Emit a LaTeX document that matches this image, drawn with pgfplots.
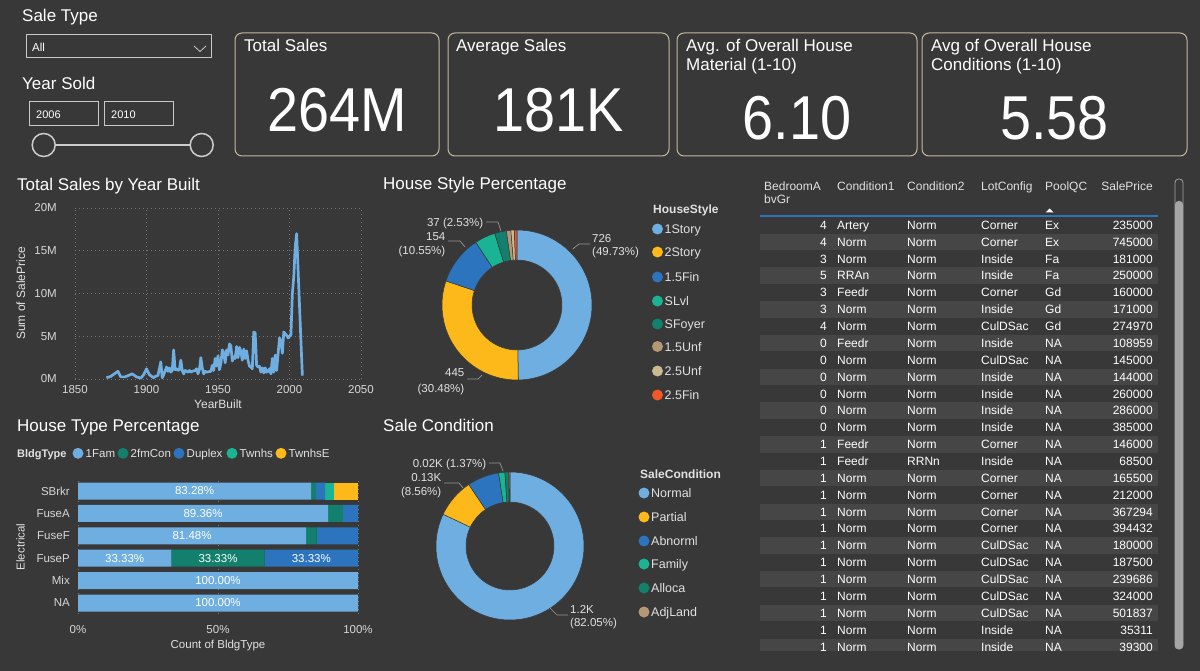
\documentclass[border=0pt]{standalone}
\usepackage{graphicx}
\usepackage{pgfplots}
\pgfplotsset{compat=1.18}
\usepackage{pgfplotstable}
\usepackage{fontspec}
\setmainfont{Liberation Sans}
\usetikzlibrary{calc}

\newcommand{\fs}[1]{\fontsize{#1}{#1}\selectfont}

\definecolor{bgc}{RGB}{56,56,56}
\definecolor{rowc}{RGB}{70,70,70}
\definecolor{cardc}{RGB}{196,186,158}
\definecolor{boxc}{RGB}{200,200,200}
\definecolor{sldc}{RGB}{205,205,205}
\definecolor{tickc}{RGB}{215,215,215}
\definecolor{gridc}{RGB}{120,120,120}
\definecolor{leadc}{RGB}{150,150,150}
\definecolor{lblc}{RGB}{225,225,225}
\definecolor{scrc}{RGB}{165,165,165}
\definecolor{lblue}{RGB}{110,174,224}
\definecolor{cyel}{RGB}{252,185,25}
\definecolor{dblue}{RGB}{44,117,190}
\definecolor{cteal}{RGB}{26,180,148}
\definecolor{cdteal}{RGB}{18,128,108}
\definecolor{ctan}{RGB}{180,152,118}
\definecolor{cbeige}{RGB}{205,185,145}
\definecolor{corng}{RGB}{240,88,40}
% slice colours, by row
\colorlet{hs0}{lblue}\colorlet{hs1}{cyel}\colorlet{hs2}{dblue}\colorlet{hs3}{cteal}
\colorlet{hs4}{cdteal}\colorlet{hs5}{ctan}\colorlet{hs6}{cbeige}\colorlet{hs7}{corng}
\colorlet{sc0}{lblue}\colorlet{sc1}{cyel}\colorlet{sc2}{dblue}\colorlet{sc3}{cteal}
\colorlet{sc4}{cdteal}\colorlet{sc5}{ctan}

% sum of SalePrice by YearBuilt, in millions
\pgfplotstableread{
year sales
1872 0.15
1875 0.30
1880 0.90
1882 0.25
1885 0.25
1890 0.60
1893 0.25
1896 0.10
1898 0.50
1900 1.20
1902 0.50
1905 0.15
1906 0.30
1908 0.40
1910 2.00
1911 0.15
1912 0.50
1914 1.40
1915 0.90
1916 1.30
1917 0.80
1918 1.00
1919 3.40
1920 1.10
1921 1.20
1922 1.00
1923 1.10
1924 2.20
1925 1.00
1926 0.60
1927 1.00
1928 0.90
1929 0.80
1930 1.00
1931 0.80
1932 0.90
1934 1.00
1935 1.20
1936 0.60
1937 1.10
1938 2.50
1939 1.30
1940 0.60
1941 0.90
1942 0.80
1945 0.90
1946 1.60
1947 1.00
1948 2.40
1949 1.50
1950 2.70
1951 1.10
1952 1.80
1953 3.40
1954 3.10
1955 1.90
1956 3.40
1957 2.80
1958 4.10
1959 3.90
1960 2.10
1961 2.60
1962 2.40
1963 3.80
1964 2.50
1965 3.70
1966 3.20
1967 2.20
1968 3.50
1969 2.40
1970 3.30
1971 2.20
1972 1.50
1973 1.40
1974 1.20
1975 5.50
1976 5.40
1977 1.60
1978 1.40
1979 1.50
1980 0.80
1981 1.30
1982 0.70
1983 1.30
1984 0.80
1985 0.90
1986 1.20
1987 0.60
1988 2.40
1989 0.80
1990 2.80
1991 1.00
1992 2.90
1993 4.80
1994 4.40
1995 3.00
1996 5.50
1997 5.30
1998 5.10
1999 4.80
2000 5.00
2001 5.20
2002 10.0
2003 12.0
2004 15.5
2005 17.0
2006 12.8
2007 8.60
2008 4.40
2009 0.40
}\yearbuilt

% share of BldgType by Electrical (row 5 = SBrkr at top)
\pgfplotstableread{
row Fam fmCon Duplex Twnhs TwnhsE
5 83.28 1.80 3.20 3.20 8.52
4 89.36 5.32 5.32 0 0
3 81.48 3.70 14.82 0 0
2 33.33 33.34 33.33 0 0
1 100 0 0 0 0
0 100 0 0 0 0
}\bldg

\pgfplotstableread{
style n
1Story 726
2Story 445
1.5Fin 154
SLvl 65
SFoyer 37
1.5Unf 14
2.5Unf 11
2.5Fin 8
}\housestyle

\pgfplotstableread{
cond n
Normal 1198
Partial 125
Abnorml 101
Family 20
Alloca 12
AdjLand 4
}\salecond

% #1 table, #2 cx, #3 cy, #4 outer r, #5 inner r, #6 total, #7 colour prefix
\newcommand{\donut}[7]{%
  \xdef\acur{90}%
  \pgfplotstableforeachcolumnelement{n}\of#1\as\val{%
    \pgfmathsetmacro{\anext}{\acur-360*(\val/#6)}%
    \edef\scol{#7\pgfplotstablerow}%
    \fill[\scol, draw=bgc, line width=0.5pt]
      ($(#2,#3)+(\acur:#4pt)$) arc[start angle=\acur, end angle=\anext, radius=#4pt]
      -- ($(#2,#3)+(\anext:#5pt)$) arc[start angle=\anext, end angle=\acur, radius=#5pt] -- cycle;
    \xdef\acur{\anext}%
  }%
}

\tikzset{
  ttl/.style={anchor=base west, inner sep=0pt, font=\fs{17}, text=white},
  tb/.style={inner sep=0pt, font=\fs{12}, text=white},
  th/.style={inner sep=0pt, font=\fs{12}, text=lblc},
  lg/.style={anchor=base west, inner sep=0pt, font=\fs{12.5}, text=lblc},
  lgt/.style={anchor=base west, inner sep=0pt, font=\bfseries\fs{12}, text=lblc},
  dl/.style={inner sep=0pt, font=\fs{11.5}, text=lblc},
}

\pgfplotsset{
  dash/.style={
    scale only axis,
    /pgf/number format/assume math mode=true,
    /pgf/number format/1000 sep={},
    axis line style={draw=none}, tick style={draw=none},
    major grid style={gridc, dash pattern=on 1pt off 3pt, line width=1pt},
    tick label style={font=\fs{11.5}, text=tickc},
  },
}

\begin{document}
\begin{tikzpicture}[x=1pt, y=-1pt]
\path[use as bounding box, fill=bgc] (0,0) rectangle (1200,671);

% ---------- slicers ----------
\node[ttl] at (22,21.7) {Sale Type};
\draw[boxc, line width=1pt] (26,35) rectangle (211,58);
\node[anchor=base west, inner sep=0pt, font=\fs{11.5}, text=white] at (32,51.5) {All};
\draw[boxc, line width=0.8pt] (194,46) -- (200,51.5) -- (206,46);
\node[ttl] at (22,89.3) {Year Sold};
\draw[boxc, line width=1pt] (29,102) rectangle (98,126);
\draw[boxc, line width=1pt] (104,102) rectangle (173,126);
\node[anchor=base west, inner sep=0pt, font=\fs{11}, text=white] at (36,118.3) {2006};
\node[anchor=base west, inner sep=0pt, font=\fs{11}, text=white] at (111,118.3) {2010};
\draw[sldc, line width=2.5pt] (55,145) -- (190,145);
\draw[sldc, line width=1.5pt, fill=bgc] (43.7,145) circle (11.5pt);
\draw[sldc, line width=1.5pt, fill=bgc] (201.7,145) circle (11.5pt);

% ---------- cards ----------
\foreach \xa/\xb in {235/439, 448/669, 677/917, 922/1187}
  \draw[cardc, line width=1pt, rounded corners=7pt] (\xa,33) rectangle (\xb,156);
\node[ttl] at (244,52) {Total Sales};
\node[ttl] at (456,52) {Average Sales};
\node[ttl] at (686,52) {Avg. of Overall House};
\node[ttl] at (686,71) {Material (1-10)};
\node[ttl] at (931,52) {Avg of Overall House};
\node[ttl] at (931,71) {Conditions (1-10)};
\node[anchor=base, inner sep=0pt, text=white] at (337,132) {\scalebox{0.9}[1]{\fs{62}264M}};
\node[anchor=base, inner sep=0pt, text=white] at (558.5,132) {\scalebox{0.9}[1]{\fs{62}181K}};
\node[anchor=base, inner sep=0pt, text=white] at (797,139.5) {\scalebox{0.9}[1]{\fs{62}6.10}};
\node[anchor=base, inner sep=0pt, text=white] at (1054.5,139.5) {\scalebox{0.9}[1]{\fs{62}5.58}};

% ---------- line chart ----------
\node[ttl] at (17,191) {Total Sales by Year Built};
\begin{axis}[dash,
  at={(218pt,-293.5pt)}, anchor=center,
  width=286pt, height=171pt,
  xmin=1850, xmax=2050, ymin=0, ymax=20,
  xtick={1850,1900,1950,2000,2050}, ytick={0,5,10,15,20},
  yticklabels={0M,5M,10M,15M,20M},
  grid=major,
  yticklabel style={anchor=east, inner sep=0pt, xshift=-18pt},
  xticklabel style={anchor=north, inner sep=0pt, yshift=-6.5pt},
  xlabel={YearBuilt}, ylabel={Sum of SalePrice},
  every axis x label/.style={at={(axis description cs:0.5,-0.17)}, anchor=base,
    inner sep=0pt, font=\fs{12}, text=lblc},
  every axis y label/.style={at={(axis description cs:-0.189,0.5)}, anchor=center,
    rotate=90, inner sep=0pt, font=\fs{12}, text=lblc},
]
\addplot[lblue, line width=2.7pt, line join=round] table[x=year, y=sales] {\yearbuilt};
\end{axis}

% ---------- house style donut ----------
\node[ttl] at (383,189.3) {House Style Percentage};
\donut{\housestyle}{517}{305}{75}{45}{1460}{hs}
\draw[leadc, line width=0.7pt] (572.7,249) -- (579,244) -- (590,244);
\node[dl, anchor=base west] at (592,242.3) {726};
\node[dl, anchor=base west] at (592,255.3) {(49.73\%)};
\draw[leadc, line width=0.7pt] (467,379) -- (478,379) -- (482,375);
\node[dl, anchor=base east] at (464.5,376.2) {445};
\node[dl, anchor=base east] at (464.5,392.2) {(30.48\%)};
\draw[leadc, line width=0.7pt] (448,241) -- (460,241) -- (465,247);
\node[dl, anchor=base east] at (445.5,240.2) {154};
\node[dl, anchor=base east] at (445.5,254.2) {(10.55\%)};
\draw[leadc, line width=0.7pt] (486,222) -- (498,222) -- (501,231);
\node[dl, anchor=base east] at (483.5,226.2) {37 (2.53\%)};
\node[lgt] at (653,213.5) {HouseStyle};
\foreach \y/\c/\t in {229/hs0/1Story, 252/hs1/2Story, 277/hs2/1.5Fin, 301/hs3/SLvl,
                      324/hs4/SFoyer, 346.5/hs5/1.5Unf, 371/hs6/2.5Unf, 395/hs7/2.5Fin}{
  \fill[\c] (657.5,\y) circle (5.5pt);
  \node[lg] at (664.5,\y+4.5) {\t};
}

% ---------- house type bars ----------
\node[ttl] at (17,431.5) {House Type Percentage};
\node[lgt, font=\bfseries\fs{11}] at (17,457.4) {BldgType};
\foreach \x/\c/\t in {78/lblue/1Fam, 123/cdteal/2fmCon, 179/dblue/Duplex, 232/cteal/Twnhs, 281/cyel/TwnhsE}{
  \fill[\c] (\x,453.3) circle (5.5pt);
  \node[lg, font=\fs{11.5}] at (\x+7.5,457.5) {\t};
}
\begin{axis}[dash,
  at={(218pt,-547pt)}, anchor=center,
  width=280pt, height=134.4pt,
  xbar stacked, bar width=17pt,
  xmin=0, xmax=100, ymin=-0.5, ymax=5.5,
  ytick={0,1,2,3,4,5}, yticklabels={NA,Mix,FuseP,FuseF,FuseA,SBrkr},
  xtick={0,50,100}, xticklabels={0\%,50\%,100\%},
  xmajorgrids,
  yticklabel style={anchor=east, inner sep=0pt, xshift=-8pt},
  xticklabel style={anchor=north, inner sep=0pt, yshift=-11.5pt},
  xlabel={Count of BldgType}, ylabel={Electrical},
  every axis x label/.style={at={(axis description cs:0.5,-0.252)}, anchor=base,
    inner sep=0pt, font=\fs{11.5}, text=lblc},
  every axis y label/.style={at={(axis description cs:-0.205,0.5)}, anchor=center,
    rotate=90, inner sep=0pt, font=\fs{11.5}, text=lblc},
]
\addplot[fill=lblue, draw=none] table[x=Fam, y=row] {\bldg};
\addplot[fill=cdteal, draw=none] table[x=fmCon, y=row] {\bldg};
\addplot[fill=dblue, draw=none] table[x=Duplex, y=row] {\bldg};
\addplot[fill=cteal, draw=none] table[x=Twnhs, y=row] {\bldg};
\addplot[fill=cyel, draw=none] table[x=TwnhsE, y=row] {\bldg};
\end{axis}
\begin{axis}[
  at={(218pt,-547pt)}, anchor=center, scale only axis,
  width=280pt, height=134.4pt, hide axis,
  xmin=0, xmax=100, ymin=-0.5, ymax=5.5,
]
\addplot[draw=none, mark=none, nodes near coords, point meta=explicit symbolic,
  every node near coord/.style={anchor=center, inner sep=0pt, font=\fs{11.5}, text=white}]
  coordinates {(41.64,5) [83.28\%] (44.68,4) [89.36\%] (40.74,3) [81.48\%]
               (16.665,2) [33.33\%] (50,2) [33.33\%] (83.33,2) [33.33\%]
               (50,1) [100.00\%] (50,0) [100.00\%]};
\end{axis}

% ---------- sale condition donut ----------
\node[ttl] at (383,431.5) {Sale Condition};
\donut{\salecond}{510}{546}{74}{44}{1460}{sc}
\draw[leadc, line width=0.7pt] (489,463) -- (500,463) -- (503,471);
\node[dl, anchor=base east] at (486.5,467.2) {0.02K (1.37\%)};
\draw[leadc, line width=0.7pt] (444,483) -- (459,483) -- (463,488);
\node[dl, anchor=base east] at (441.5,481.2) {0.13K};
\node[dl, anchor=base east] at (441.5,495.2) {(8.56\%)};
\draw[leadc, line width=0.7pt] (550,608) -- (557,615) -- (568,615);
\node[dl, anchor=base west] at (570,613.2) {1.2K};
\node[dl, anchor=base west] at (570,626.2) {(82.05\%)};
\node[lgt] at (640,478.5) {SaleCondition};
\foreach \y/\c/\t in {493/sc0/Normal, 517/sc1/Partial, 541/sc2/Abnorml, 564/sc3/Family,
                      588/sc4/Alloca, 612/sc5/AdjLand}{
  \fill[\c] (644,\y) circle (5.5pt);
  \node[lg] at (651,\y+4.5) {\t};
}

% ---------- table ----------
\node[th, anchor=base west] at (764,190.5) {BedroomA};
\node[th, anchor=base west] at (764,203.5) {bvGr};
\node[th, anchor=base west] at (837,190.5) {Condition1};
\node[th, anchor=base west] at (907,190.5) {Condition2};
\node[th, anchor=base west] at (981,190.5) {LotConfig};
\node[th, anchor=base west] at (1045,190.5) {PoolQC};
\node[th, anchor=base east] at (1153,190.5) {SalePrice};
\fill[white] (1045.5,212.5) -- (1053.5,212.5) -- (1049.5,208.5) -- cycle;
\begin{scope}
\clip (755,217) rectangle (1165,650.5);
\foreach \b/\ca/\cb/\lc/\pq/\sp [count=\i from 0] in {
  4/Artery/Norm/Corner/Ex/235000, 4/Norm/Norm/Corner/Ex/745000,
  3/Norm/Norm/Inside/Fa/181000, 5/RRAn/Norm/Inside/Fa/250000,
  3/Feedr/Norm/Corner/Gd/160000, 3/Norm/Norm/Inside/Gd/171000,
  4/Norm/Norm/CulDSac/Gd/274970, 0/Feedr/Norm/Inside/NA/108959,
  0/Norm/Norm/CulDSac/NA/145000, 0/Norm/Norm/Inside/NA/144000,
  0/Norm/Norm/Inside/NA/260000, 0/Norm/Norm/Inside/NA/286000,
  0/Norm/Norm/Inside/NA/385000, 1/Feedr/Norm/Corner/NA/146000,
  1/Feedr/RRNn/Inside/NA/68500, 1/Norm/Norm/Corner/NA/165500,
  1/Norm/Norm/Corner/NA/212000, 1/Norm/Norm/Corner/NA/367294,
  1/Norm/Norm/Corner/NA/394432, 1/Norm/Norm/CulDSac/NA/180000,
  1/Norm/Norm/CulDSac/NA/187500, 1/Norm/Norm/CulDSac/NA/239686,
  1/Norm/Norm/CulDSac/NA/324000, 1/Norm/Norm/CulDSac/NA/501837,
  1/Norm/Norm/Inside/NA/35311, 1/Norm/Norm/Inside/NA/39300}{
  \pgfmathsetmacro{\yy}{225+16.87*\i}
  \ifodd\i \fill[rowc] (760,\yy-8.2) rectangle (1158,\yy+8.2); \fi
  \node[tb, anchor=base east] at (827,\yy+4.3) {\b};
  \node[tb, anchor=base west] at (837,\yy+4.3) {\ca};
  \node[tb, anchor=base west] at (907,\yy+4.3) {\cb};
  \node[tb, anchor=base west] at (981,\yy+4.3) {\lc};
  \node[tb, anchor=base west] at (1045,\yy+4.3) {\pq};
  \node[tb, anchor=base east] at (1153,\yy+4.3) {\sp};
}
\end{scope}
\draw[dblue, line width=1.2pt] (760,216) -- (1158,216);
\draw[scrc, line width=0.8pt, fill=bgc, rounded corners=3.5pt] (1175,179) rectangle (1183,649);
\fill[scrc, rounded corners=3.5pt] (1175,201) rectangle (1183,649);
\end{tikzpicture}
\end{document}
